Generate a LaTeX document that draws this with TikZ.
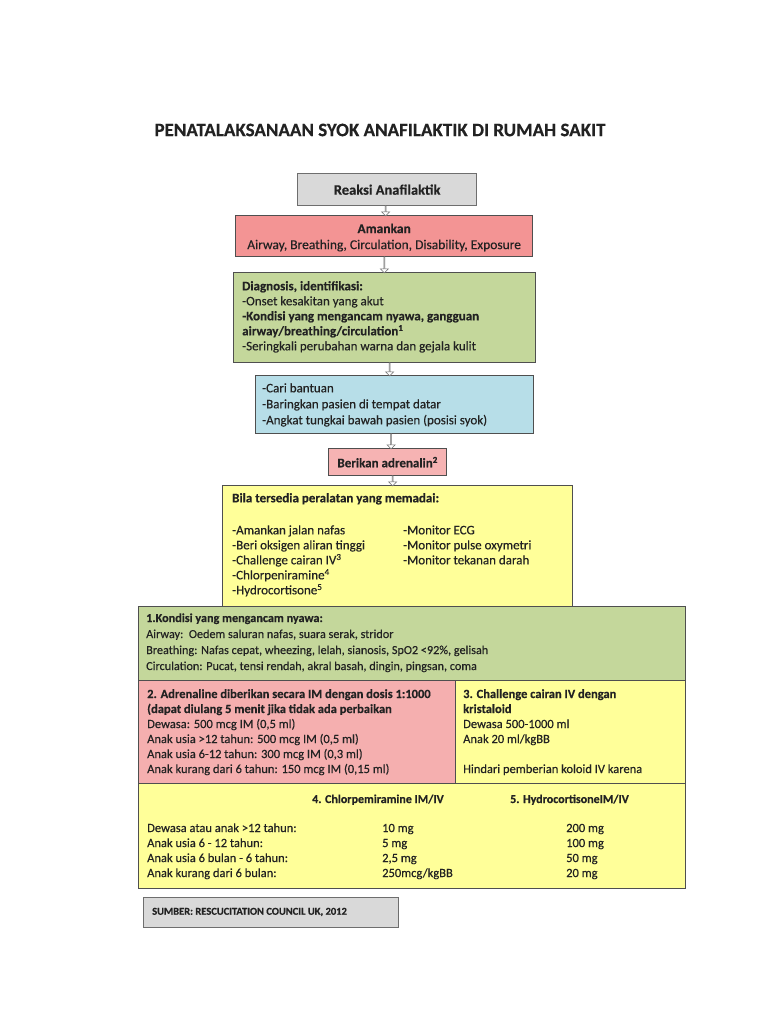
\documentclass[tikz,border=0pt]{standalone}
\usepackage{fontspec}
\setmainfont{Carlito}[UprightFeatures={FakeBold=0.35},BoldFeatures={FakeBold=0.3}]
\usetikzlibrary{shapes.arrows}
\definecolor{graybox}{HTML}{D9D9D9}
\definecolor{grayline}{HTML}{6E6E6E}
\definecolor{boxline}{HTML}{4F4F4F}
\definecolor{redbox}{HTML}{F39494}
\definecolor{pinkbox}{HTML}{F6B3B3}
\definecolor{redtwo}{HTML}{F5AFAF}
\definecolor{greenbox}{HTML}{C4D79B}
\definecolor{bluebox}{HTML}{B7DEE8}
\definecolor{yellowbox}{HTML}{FFFF99}
\definecolor{txtcol}{HTML}{222222}
\tikzset{
  box/.style={draw=boxline, line width=1.3pt, inner sep=0pt, anchor=north west},
  txt/.style={anchor=north west, inner sep=0pt, align=left, text=txtcol,
    font=\fontsize{12.5}{15}\selectfont},
  txttop/.style={txt, font=\fontsize{13}{15}\selectfont},
  txtb/.style={txt, font=\fontsize{13}{16}\selectfont},
  txtg/.style={txt, font=\fontsize{12.2}{16}\selectfont},
  harrow/.style={single arrow, draw=grayline, fill=white, line width=0.6pt,
    minimum width=8pt, single arrow head extend=2pt, inner sep=0pt,
    shape border rotate=270}
}
\begin{document}
\begin{tikzpicture}[x=1pt,y=-1pt]
\useasboundingbox[fill=white] (0,0) rectangle (768,1024);
% title
\node[text=txtcol, font=\fontsize{19}{22}\selectfont\bfseries, inner sep=0pt] (title) at (380,130) {PENATALAKSANAAN SYOK ANAFILAKTIK DI RUMAH SAKIT};
% boxes
\node[box, draw=grayline, fill=graybox, minimum width=179pt, minimum height=32pt] (reaksi) at (297,173) {};
\node[text=txtcol, font=\fontsize{14.5}{16}\selectfont\bfseries, inner sep=0pt] (treaksi) at (reaksi.center) {Reaksi Anafilaktik};
\node[box, fill=redbox, minimum width=297pt, minimum height=41pt] (amankan) at (235,215) {};
\node[txt, font=\fontsize{13.5}{16}\selectfont, anchor=center, align=center] (tamankan) at ([yshift=-0.5pt]amankan.center) {\strut\textbf{Amankan}\\Airway, Breathing, Circulation, Disability, Exposure};
\node[box, fill=greenbox, minimum width=302pt, minimum height=90pt] (diag) at (233,272) {};
\node[txttop] (tdiag) at (242,279.6) {\strut\textbf{Diagnosis, identifikasi:}\\-Onset kesakitan yang akut\\\textbf{-Kondisi yang mengancam nyawa, gangguan}\\\textbf{airway/breathing/circulation\textsuperscript{1}}\\-Seringkali perubahan warna dan gejala kulit};
\node[box, fill=bluebox, minimum width=278pt, minimum height=58pt] (blue) at (255,375) {};
\node[txtb] (tblue) at (262,380.9) {\strut-Cari bantuan\\-Baringkan pasien di tempat datar\\-Angkat tungkai bawah pasien (posisi syok)};
\node[box, fill=pinkbox, minimum width=118pt, minimum height=27pt] (adr) at (328,448) {};
\node[text=txtcol, font=\fontsize{13}{15}\selectfont\bfseries, inner sep=0pt] (tadr) at (adr.center) {Berikan adrenalin\textsuperscript{2}};
\node[box, fill=yellowbox, minimum width=350pt, minimum height=121pt] (bila) at (222,485) {};
\node[txttop] (tbila) at (232,491.6) {\strut\textbf{Bila tersedia peralatan yang memadai:}\\[17pt]-Amankan jalan nafas\\-Beri oksigen aliran tinggi\\-Challenge cairan IV\textsuperscript{3}\\-Chlorpeniramine\textsuperscript{4}\\-Hydrocortisone\textsuperscript{5}};
\node[txttop] (tbila2) at (403,523.6) {\strut-Monitor ECG\\-Monitor pulse oxymetri\\-Monitor tekanan darah};
% lower boxes
\node[box, fill=greenbox, minimum width=547pt, minimum height=74pt] (kond) at (138,606) {};
\node[txtg] (tkond) at (146,610.6) {\strut\textbf{1.Kondisi yang mengancam nyawa:}\\Airway:\ \ Oedem saluran nafas, suara serak, stridor\\Breathing: Nafas cepat, wheezing, lelah, sianosis, SpO2 <92\%, gelisah\\Circulation: Pucat, tensi rendah, akral basah, dingin, pingsan, coma};
\node[box, fill=redtwo, minimum width=317pt, minimum height=103pt] (adr2) at (138,680) {};
\node[txt] (tadr2) at (147,687.3) {\strut\textbf{2. Adrenaline diberikan secara IM dengan dosis 1:1000}\\\textbf{(dapat diulang 5 menit jika tidak ada perbaikan}\\Dewasa: 500 mcg IM (0,5 ml)\\Anak usia >12 tahun: 500 mcg IM (0,5 ml)\\Anak usia 6-12 tahun: 300 mcg IM (0,3 ml)\\Anak kurang dari 6 tahun: 150 mcg IM (0,15 ml)};
\node[box, fill=yellowbox, minimum width=230pt, minimum height=103pt] (cair) at (455,680) {};
\node[txt] (tcair) at (463,687.3) {\strut\textbf{3. Challenge cairan IV dengan}\\\textbf{kristaloid}\\Dewasa 500-1000 ml\\Anak 20 ml/kgBB\\[15pt]Hindari pemberian koloid IV karena};
\node[box, fill=yellowbox, minimum width=547pt, minimum height=105pt] (dosis) at (138,783) {};
\node[txt] (tcol1) at (147,821.3) {\strut Dewasa atau anak >12 tahun:\\Anak usia 6 - 12 tahun:\\Anak usia 6 bulan - 6 tahun:\\Anak kurang dari 6 bulan:};
\node[txt, font=\fontsize{12}{15}\selectfont] (thead2) at (312,792.3) {\strut\textbf{4. Chlorpemiramine IM/IV}};
\node[txt] (tcol2) at (382,821.3) {\strut 10 mg\\5 mg\\2,5 mg\\250mcg/kgBB};
\node[txt, font=\fontsize{12}{15}\selectfont] (thead3) at (510,792.3) {\strut\textbf{5. HydrocortisoneIM/IV}};
\node[txt] (tcol3) at (566,821.3) {\strut 200 mg\\100 mg\\50 mg\\20 mg};
% source
\node[box, draw=grayline, fill=graybox, minimum width=255pt, minimum height=30pt] (sumber) at (143,897) {};
\node[anchor=west, inner sep=0pt, text=txtcol, font=\fontsize{10.5}{12}\selectfont\bfseries] (tsumber) at (152,912) {SUMBER: RESCUCITATION COUNCIL UK, 2012};
% arrows
\path (reaksi.south) -- node[harrow, minimum height=10pt] (a1) {} (amankan.north);
\path (amankan.south) -- node[harrow, minimum height=16pt] (a2) {} (diag.north);
\path (diag.south) -- node[harrow, minimum height=13pt] (a3) {} (blue.north);
\path (blue.south) -- node[harrow, minimum height=15pt] (a4) {} (adr.north);
\path (adr.south) -- node[harrow, minimum height=10pt] (a5) {} (bila.north);
\end{tikzpicture}
\end{document}
